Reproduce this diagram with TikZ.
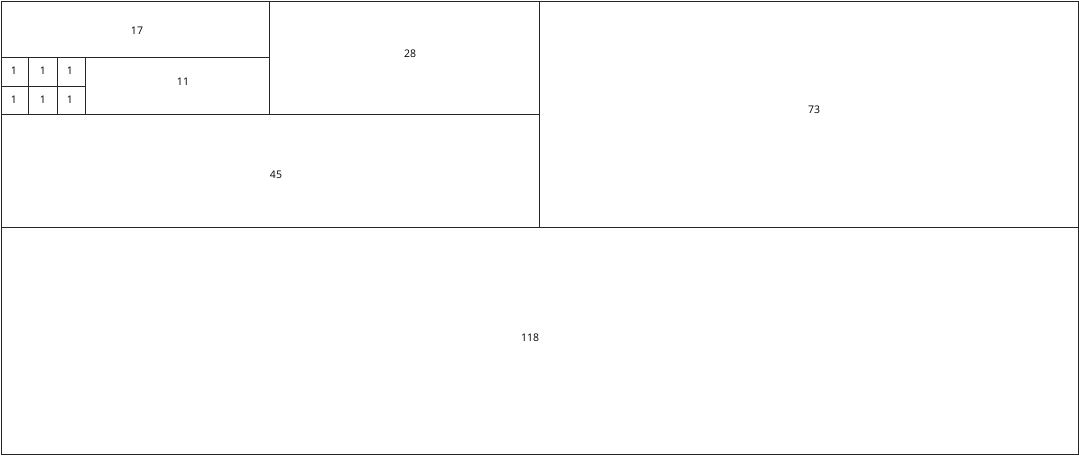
\documentclass[tikz,border=0pt]{standalone}
\usepackage{fontspec}
\setmainfont{Open Sans}
\begin{document}
\begin{tikzpicture}[x=1pt,y=-1pt,
  box/.style={draw=black!85,line width=1pt,rectangle,inner sep=0pt,outer sep=0pt},
  lbl/.style={inner sep=0pt,font=\fontsize{10.5}{12}\selectfont}]
\useasboundingbox (0,0) rectangle (1079,456);
\fill[white] (0,0) rectangle (1079,456);
% big regions
\node[box,minimum width=1077pt,minimum height=226.5pt] (n118) at (539.5,340.75) {};
\node[box,minimum width=539pt,minimum height=226.5pt] (n73) at (808.5,114.25) {};
\node[box,minimum width=538pt,minimum height=113pt] (n45) at (270,171) {};
\node[box,minimum width=269.5pt,minimum height=113.5pt] (n28) at (404.25,57.75) {};
\node[box,minimum width=268.5pt,minimum height=56.5pt] (n17) at (135.25,29.25) {};
\node[box,minimum width=184pt,minimum height=57pt] (n11) at (177.5,86) {};
% unit squares
\node[box,minimum width=27.5pt,minimum height=28.5pt] (a1) at (14.75,71.75) {};
\node[box,minimum width=28.5pt,minimum height=28.5pt] (a2) at (42.75,71.75) {};
\node[box,minimum width=28.5pt,minimum height=28.5pt] (a3) at (71.25,71.75) {};
\node[box,minimum width=27.5pt,minimum height=28.5pt] (b1) at (14.75,100.25) {};
\node[box,minimum width=28.5pt,minimum height=28.5pt] (b2) at (42.75,100.25) {};
\node[box,minimum width=28.5pt,minimum height=28.5pt] (b3) at (71.25,100.25) {};
% labels
\node[lbl] (t118) at (530,338) {118};
\node[lbl] (t73) at (814,110) {73};
\node[lbl] (t45) at (276,175) {45};
\node[lbl] (t28) at (410,54) {28};
\node[lbl] (t17) at (137,31) {17};
\node[lbl] (t11) at (183,82) {11};
\node[lbl] (ta1) at (14,71) {1};
\node[lbl] (ta2) at (43,71) {1};
\node[lbl] (ta3) at (70,71) {1};
\node[lbl] (tb1) at (14,100) {1};
\node[lbl] (tb2) at (43,100) {1};
\node[lbl] (tb3) at (70,100) {1};
\end{tikzpicture}
\end{document}
